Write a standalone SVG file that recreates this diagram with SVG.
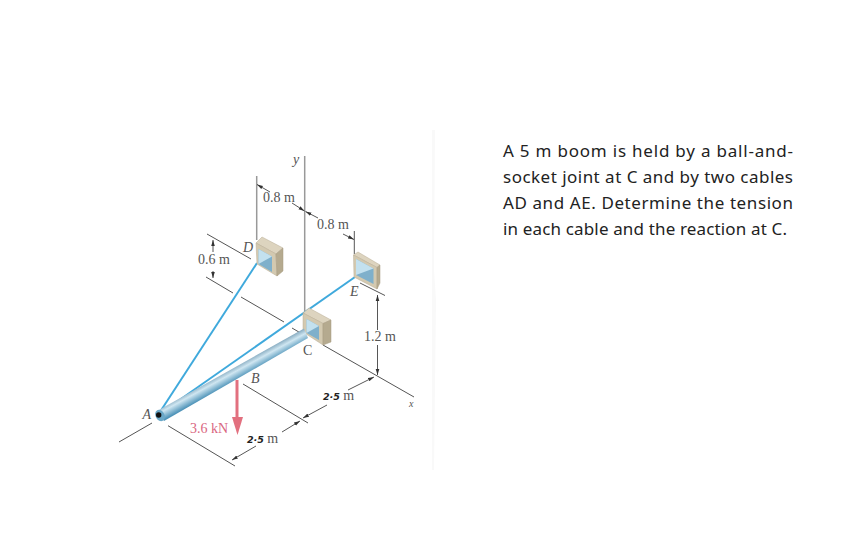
<svg xmlns="http://www.w3.org/2000/svg" width="863" height="538" viewBox="0 0 863 538">
<style>
.dim{fill:none;stroke:#555;stroke-width:1}
.arr{fill:none;stroke:#444;stroke-width:.9;marker-end:url(#ah)}
.axis{fill:none;stroke:#999;stroke-width:1.5}
.cable{fill:none;stroke:#3fa9dc;stroke-width:2}
.lbl{font-family:"Liberation Serif",serif;font-size:14px;fill:#555}
.it{font-style:italic}
.hand{font-family:"DejaVu Sans",sans-serif;font-size:9.500px;font-weight:bold;font-style:italic;fill:#222}
.para{font-family:"Noto Sans","Open Sans",sans-serif;font-size:17px;fill:#222}
.top{fill:#ddd4bf;stroke:#b9ad94;stroke-width:.5}
.front{fill:#d3c9b0;stroke:#b9ad94;stroke-width:.5}
.side{fill:#b5aa8f;stroke:#a69b80;stroke-width:.5}
.in2{fill:#c3e1ef}
.in3{fill:#7fb0cb}
</style>
<defs>
<marker id="ah" markerWidth="7" markerHeight="5" refX="6" refY="2.500" orient="auto" markerUnits="userSpaceOnUse"><path d="M0,.7 L6,2.500 L0,4.300 Z" fill="#333"/></marker>
<linearGradient id="boom" gradientUnits="userSpaceOnUse" x1="231" y1="369" x2="237" y2="380">
<stop offset="0" stop-color="#8fb2c6"/><stop offset=".35" stop-color="#cfe6f1"/><stop offset="1" stop-color="#4f94b9"/>
</linearGradient>
</defs>
<rect width="863" height="538" fill="#fff"/>
<path d="M432,130 L435,130 L434,270 L436,300 L434,470 L432,470 Z" fill="#f9f9f9"/>
<g id="connectors">
<path class="axis" d="M304.700,156V312"/>
<path class="axis" d="M256.700,176V240"/>
<path class="dim" d="M354.300,231V254"/>
<path class="dim" d="M207,234L251,259M206,277L233,293M241,297L284,322M292,328L304,335"/>
<path class="dim" d="M360,283L385,295.500"/>
<path class="dim" d="M323,345L414,397"/>
<path class="dim" d="M119,442L152,423M168,425.700L235,466"/>
<path class="dim" d="M243,384L308,423"/>
<path class="arr" d="M213,252V240"/><path class="arr" d="M213,271V278"/>
<path class="arr" d="M270,192L257,184.500"/>
<path class="arr" d="M292,203L304.500,211"/>
<path class="arr" d="M318,218L305.500,211.500"/>
<path class="arr" d="M343,234L354,239.500"/>
<path class="arr" d="M377.500,330V295"/><path class="arr" d="M377.500,345V375"/>
<path class="arr" d="M348,390L374,377"/>
<path class="arr" d="M327,405L303,418"/>
<path class="arr" d="M282,432L300,421"/>
<path class="arr" d="M256,446L232,460"/>
<path class="cable" d="M158,415L257,263"/>
<path class="cable" d="M158,415L355,277"/>
</g>
<g id="node-D">
<path class="top" d="M256,243L262,237L283,248L276,254Z"/>
<path class="front" d="M256,243L276,254L277,276L257,264Z"/>
<path class="side" d="M276,254L283,248L283,271L277,276Z"/>
<path class="in3" d="M258.500,249L272,256.500V272L258.500,264Z"/>
<path class="in2" d="M258.500,249L272,256.500L258.500,264Z"/>
<text class="lbl it" x="243" y="252">D</text>
</g>
<g id="node-E">
<path class="top" d="M353.500,255L358,252L380,265L377,267.500Z"/>
<path class="front" d="M353.500,255L377,267.500L377,289L354,277Z"/>
<path class="side" d="M377,267.500L380,265V283L377,289Z"/>
<path class="in3" d="M356,259L373.500,268.500V284L356,275Z"/>
<path class="in2" d="M356,259L373.500,268.500L356,275Z"/>
<text class="lbl it" x="350" y="296">E</text>
</g>
<g id="node-C">
<path class="top" d="M303,313L309,308L331,320L323,323.500Z"/>
<path class="front" d="M303,313L323,323.500V345L303,332Z"/>
<path class="side" d="M323,323.500L331,320V342L323,345Z"/>
<path class="in3" d="M306.500,319L319,326V340L306.500,333Z"/>
<path class="in2" d="M306.500,319L319,326L306.500,333Z"/>
<text class="lbl" x="303" y="355">C</text>
</g>
<g id="node-boom">
<path d="M157,411L304,328.500L308,338L164,421Z" fill="url(#boom)"/>
<ellipse cx="160" cy="415.500" rx="4.500" ry="6" transform="rotate(-28 160 415.500)" fill="#6aa8c8"/>
<circle cx="158.700" cy="415" r="2.700" fill="#111"/>
<text class="lbl it" x="142.500" y="419">A</text>
</g>
<g id="node-B">
<path d="M237,380V418" stroke="#e2707f" stroke-width="3" fill="none"/>
<path d="M232,417H243L237.500,435Z" fill="#e2707f"/>
<text class="lbl it" x="251" y="383">B</text>
<text x="190" y="433" font-family="Liberation Serif,serif" font-size="14" fill="#d9667f">3.6 kN</text>
</g>
<g id="labels">
<text class="lbl it" x="293" y="164">y</text>
<text class="lbl" x="263" y="202">0.8 m</text>
<text class="lbl" x="317" y="229">0.8 m</text>
<text class="lbl" x="198" y="264">0.6 m</text>
<text class="lbl" x="364" y="341">1.2 m</text>
<text class="lbl it" x="409" y="407" style="font-size:10px">x</text>
<text x="323" y="400"><tspan class="hand">2·5</tspan><tspan class="lbl"> m</tspan></text>
<text x="247" y="443"><tspan class="hand">2·5</tspan><tspan class="lbl"> m</tspan></text>
</g>
<g id="problem-text">
<text class="para" x="503" y="157" textLength="290">A 5 m boom is held by a ball-and-</text>
<text class="para" x="503" y="183" textLength="290">socket joint at C and by two cables</text>
<text class="para" x="503" y="209" textLength="290">AD and AE. Determine the tension</text>
<text class="para" x="503" y="235" textLength="284">in each cable and the reaction at C.</text>
</g>
</svg>
